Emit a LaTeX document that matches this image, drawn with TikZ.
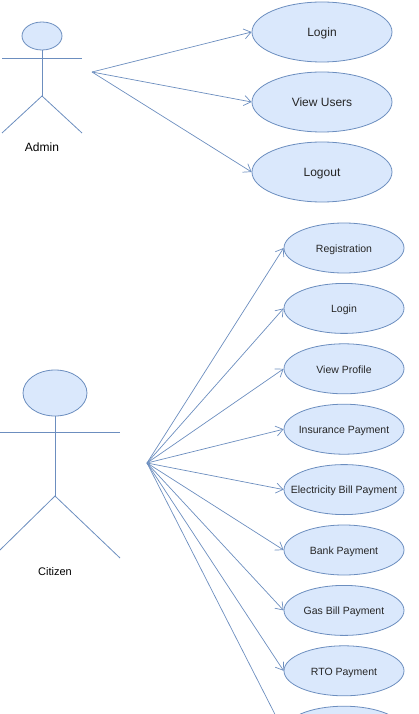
\documentclass[tikz,border=0pt]{standalone}
\usepackage{fontspec}
\setmainfont{Liberation Sans}
\usetikzlibrary{positioning, arrows.meta, shapes.geometric}

\definecolor{ucfill}{HTML}{DAE8FC}
\definecolor{ucline}{HTML}{6C8EBF}

\newcommand{\caselabel}[1]{\raisebox{-0.4em}[0pt][0pt]{\makebox[0pt]{#1}}}

\tikzset{
    usecase/.style={ellipse, draw=ucline, fill=ucfill, line width=0.8pt, inner sep=0pt, text=black!85},
    bigcase/.style={usecase, minimum width=140pt, minimum height=60pt, font=\fontsize{12}{14}\selectfont},
    smallcase/.style={usecase, minimum width=120pt, minimum height=50pt, font=\fontsize{10.5}{12}\selectfont},
    actorline/.style={draw=ucline, line width=0.8pt},
    assoc/.style={draw=ucline, line width=0.7pt, -{Straight Barb[length=7pt, width=10pt]}}
}

\begin{document}
\begin{tikzpicture}[x=1pt, y=-1pt]
    \useasboundingbox (0,0) rectangle (418,714);
    \clip (0,0) rectangle (418,714);
    % --- Admin ---
    \begin{scope}
        \draw[actorline, fill=ucfill] (42,36) ellipse (20 and 14);
        \draw[actorline] (2,58) -- (82,58);
        \draw[actorline] (42,50) -- (42,96);
        \draw[actorline] (2,133) -- (42,96) -- (82,133);
        \node[font=\fontsize{12}{14}\selectfont] (admin) at (42,147) {Admin};
        \coordinate (adminSrc) at (92,72);
        \foreach \name/\txt [count=\i] in {alogin/Login, aview/View Users, alogout/Logout} {
            \node[bigcase] (\name) at (322,{32+(\i-1)*70}) {\caselabel{\txt}};
            \draw[assoc] (adminSrc) -- (\name.west);
        }
    \end{scope}
    % --- Citizen ---
    \begin{scope}
        \draw[actorline, fill=ucfill] (55,393) ellipse (32 and 23);
        \draw[actorline] (0,432) -- (120,432);
        \draw[actorline] (55,416) -- (55,496);
        \draw[actorline] (0,550) -- (55,496) -- (120,558);
        \node[font=\fontsize{11}{13}\selectfont] (citizen) at (55,572) {Citizen};
        \coordinate (citizenSrc) at (147,463);
        \foreach \name/\txt [count=\i] in {creg/Registration, clogin/Login, cprof/View Profile,
            cins/Insurance Payment, celec/Electricity Bill Payment, cbank/Bank Payment,
            cgas/Gas Bill Payment, crto/RTO Payment, cnext/{}} {
            \node[smallcase] (\name) at (344,{248+(\i-1)*60.4}) {\caselabel{\txt}};
            \draw[assoc] (citizenSrc) -- (\name.west);
        }
    \end{scope}
\end{tikzpicture}
\end{document}
